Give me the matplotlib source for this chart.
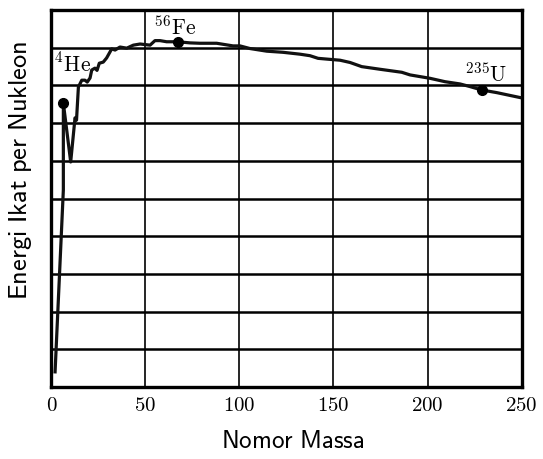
import matplotlib
matplotlib.use("Agg")
import matplotlib.pyplot as plt

plt.rcParams['mathtext.fontset'] = 'cm'

# Curve: mass number vs binding energy per nucleon
mass_number = [2.0, 6.4, 6.4, 10.3, 12.6, 13.4, 13.7, 14.4, 16.2, 17.9, 19.1, 20.6, 21.5,
               23.2, 24.3, 25.5, 27.6, 29.4, 31.2, 32.1, 33.9, 36.5, 40.1, 43.6, 47.2,
               52.5, 55.1, 57.8, 61.3, 67.2, 73.7, 79.0, 87.9, 96.6, 100.3, 105.6, 114.5,
               123.2, 132.2, 137.5, 141.8, 146.4, 153.5, 158.8, 165.0, 174.7, 186.3, 190.7,
               201.3, 209.3, 217.3, 222.6, 228.8, 236.8, 249.1]
energy = [0.40, 5.23, 7.53, 5.97, 7.14, 7.08, 7.35, 7.96, 8.14, 8.14, 8.09, 8.20, 8.41,
          8.46, 8.40, 8.59, 8.62, 8.73, 8.89, 8.97, 8.94, 9.02, 8.99, 9.07, 9.10,
          9.07, 9.19, 9.19, 9.16, 9.16, 9.13, 9.12, 9.12, 9.05, 9.05, 8.98, 8.91,
          8.88, 8.83, 8.79, 8.72, 8.70, 8.67, 8.61, 8.50, 8.43, 8.35, 8.28,
          8.19, 8.10, 8.04, 7.97, 7.88, 7.81, 7.68]

# Marked nuclides
marked_labels = [r'$^{4}\mathrm{He}$', r'$^{56}\mathrm{Fe}$', r'$^{235}\mathrm{U}$']
marked_x = [6.4, 67.2, 228.8]
marked_y = [7.53, 9.16, 7.88]
label_x = [1.5, 66.0, 231.0]
label_y = [8.36, 9.34, 8.09]
label_ha = ['left', 'center', 'center']

x_ticks = [0, 50, 100, 150, 200, 250]
y_grid = [1, 2, 3, 4, 5, 6, 7, 8, 9]

fig = plt.figure(figsize=(5.43, 4.59), dpi=100)
ax = fig.add_axes([0.0945, 0.157, 0.8661, 0.821])

ax.set_xlim(0, 250)
ax.set_ylim(0, 10)

for yv in y_grid:
    ax.axhline(yv, color='black', lw=1.8, zorder=1)
for xv in x_ticks[1:-1]:
    ax.axvline(xv, color='black', lw=1.2, zorder=1)

ax.plot(mass_number, energy, color='#111111', lw=2.3, zorder=3, solid_joinstyle='round')
ax.plot(marked_x, marked_y, 'o', color='black', ms=7, zorder=4)
for lab, lx, ly, ha in zip(marked_labels, label_x, label_y, label_ha):
    ax.text(lx, ly, lab, fontsize=15.5, ha=ha, va='baseline', zorder=5)

ax.set_xticks(x_ticks)
ax.set_xticklabels([f'${v}$' for v in x_ticks], fontsize=15)
ax.set_yticks([])
ax.tick_params(axis='x', length=0, pad=6)

for s in ax.spines.values():
    s.set_linewidth(2.4)
    s.set_color('black')

fig.text(293 / 543, 1 - 441 / 459, r'$\mathsf{Nomor\ Massa}$', fontsize=18,
         ha='center', va='center')
fig.text(21 / 543, 1 - 170 / 459, r'$\mathsf{Energi\ Ikat\ per\ Nukleon}$', fontsize=19,
         ha='center', va='center', rotation=90)

fig.savefig('out.png', dpi=100)
